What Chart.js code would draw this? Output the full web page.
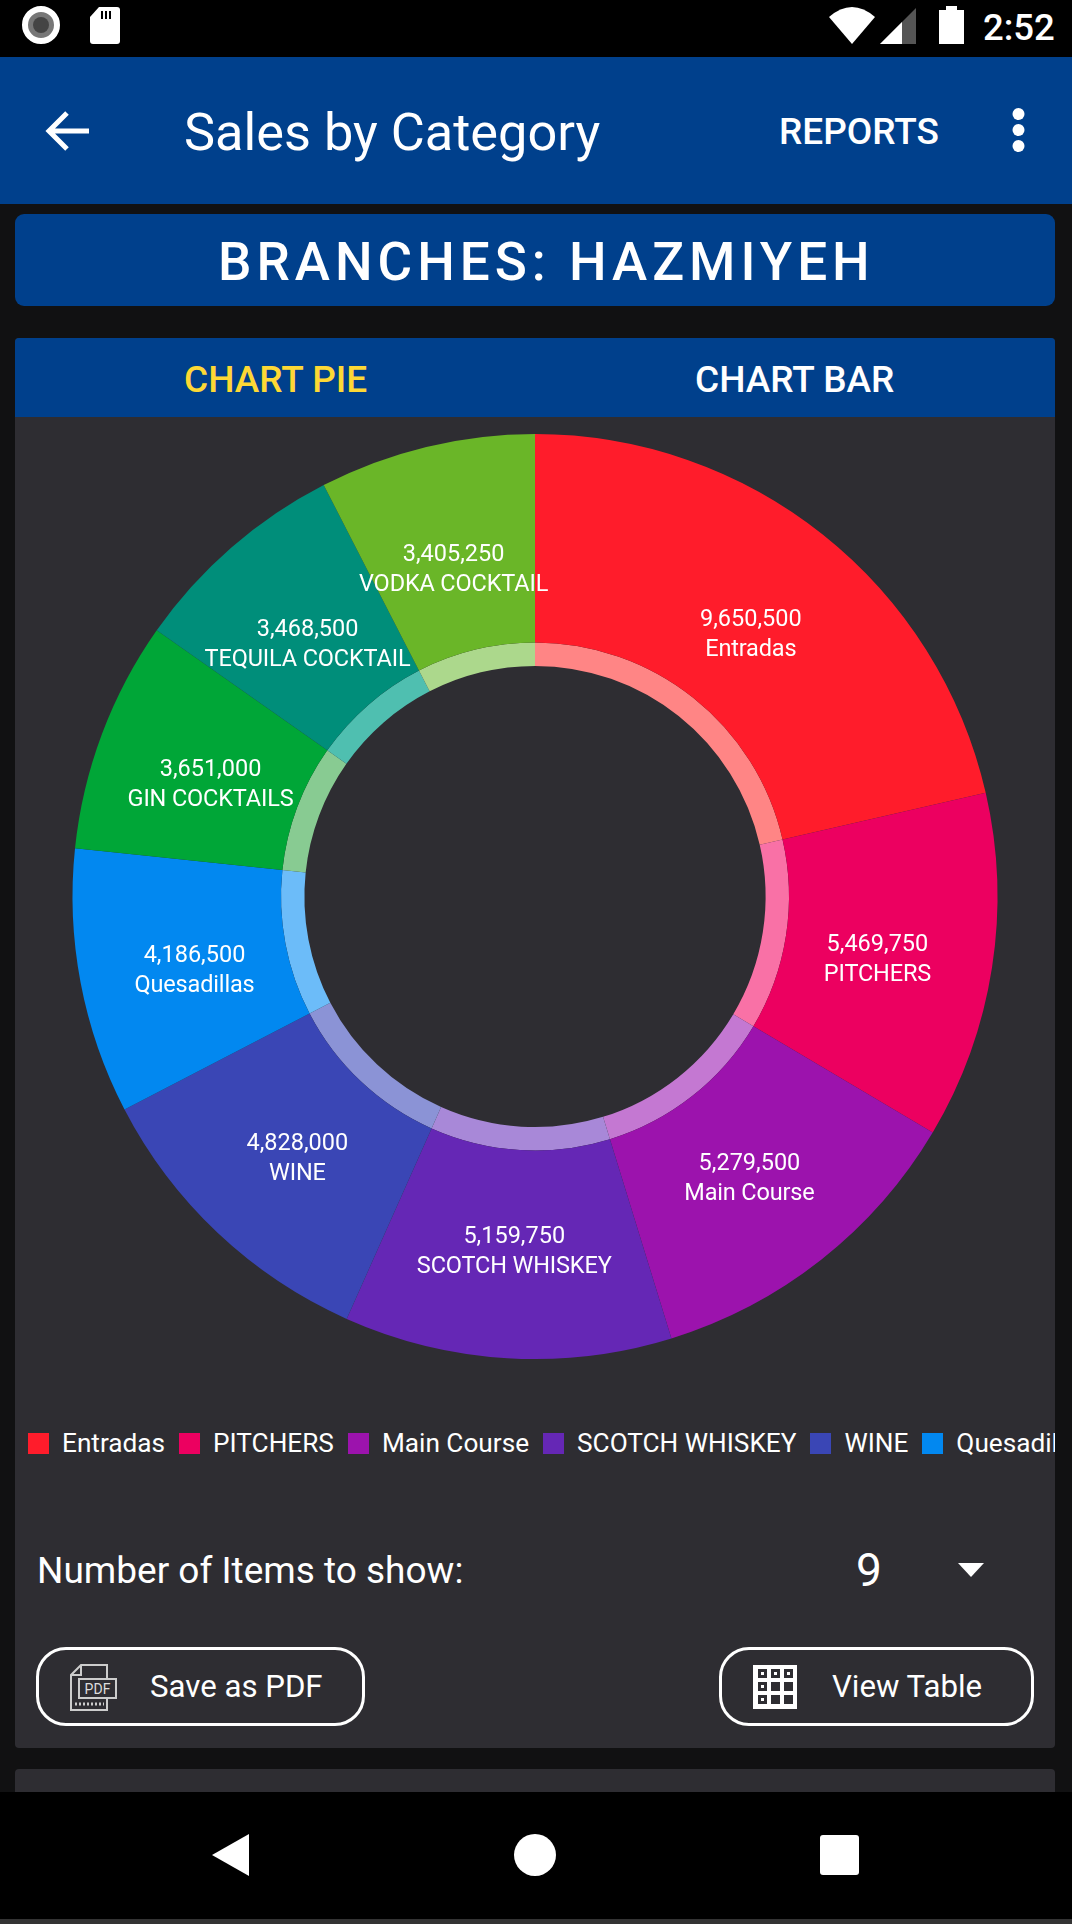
<!DOCTYPE html>
<html>
<head>
<meta charset="utf-8">
<title>Sales by Category</title>
<script src="https://cdn.jsdelivr.net/npm/chart.js@4"></script>
<style>
  html, body { margin: 0; padding: 0; background: #111112; }
  #screen { position: relative; width: 1072px; height: 1924px; overflow: hidden; font-family: Roboto, sans-serif; color: #fff; background: #111112; }
  #screen div, #screen svg { position: absolute; }
  .txt { white-space: nowrap; line-height: 1; }
  .blue { background: #00408c; }
  .card { background: #2e2d32; }
  #legend { left: 15px; top: 1431px; width: 1040px; height: 24px; overflow: hidden; }
  #legendRow { left: 13px; top: 0; display: flex; align-items: center; white-space: nowrap; height: 24px; font-size: 26.2px; }
  .item { display: flex; align-items: center; margin-right: 14px; }
  .box { display: inline-block; width: 21px; height: 21px; margin-right: 13px; }
  .btn { border: 3px solid #fff; border-radius: 30px; box-sizing: border-box; }
</style>
</head>
<body>
<div id="screen">
  <div style="left:0;top:0;width:1072px;height:57px;background:#000"></div>
  <div class="blue" style="left:0;top:57px;width:1072px;height:147px"></div>
  <div class="blue" style="left:15px;top:214px;width:1040px;height:92px;border-radius:9px"></div>
  <div class="card" style="left:15px;top:338px;width:1040px;height:1410px;border-radius:4px"></div>
  <div class="blue" style="left:15px;top:338px;width:1040px;height:79px;border-radius:4px 4px 0 0"></div>
  <div class="card" style="left:15px;top:1769px;width:1040px;height:40px;border-radius:4px"></div>
  <div style="left:0;top:1792px;width:1072px;height:132px;background:#000"></div>
  <div style="left:0;top:1919px;width:1072px;height:5px;background:#333"></div>

  <div class="txt" style="left:184px;top:106px;font-size:52.3px">Sales by Category</div>
  <div class="txt" style="left:779px;top:113px;font-size:37px;font-weight:500">REPORTS</div>
  <div class="txt" style="left:218px;top:236px;font-size:53px;font-weight:500;letter-spacing:5px">BRANCHES: HAZMIYEH</div>
  <div class="txt" style="left:184px;top:361px;font-size:37px;font-weight:500;color:#fdd835">CHART PIE</div>
  <div class="txt" style="left:695px;top:361px;font-size:37px;font-weight:500">CHART BAR</div>
  <div class="txt" style="left:983px;top:10px;font-size:36.5px;font-weight:500">2:52</div>

  <div style="left:14px;top:417px;width:1042px;height:959px">
    <canvas id="chartContainer" width="1042" height="959" style="display:block"></canvas>
  </div>
  <div id="legend"><div id="legendRow"></div></div>

  <div class="txt" style="left:37px;top:1552px;font-size:37px">Number of Items to show:</div>
  <div class="txt" style="left:856px;top:1547px;font-size:46px">9</div>
  <div class="btn" style="left:36px;top:1647px;width:329px;height:79px"></div>
  <div class="btn" style="left:719px;top:1647px;width:315px;height:79px"></div>
  <div class="txt" style="left:150px;top:1671px;font-size:31.2px">Save as PDF</div>
  <div class="txt" style="left:832px;top:1671px;font-size:31.2px">View Table</div>

  <svg width="1072" height="1924" style="left:0;top:0">
    <!-- status bar -->
    <circle cx="41" cy="25" r="16" fill="#777" stroke="#fff" stroke-width="6"/>
    <circle cx="41" cy="25" r="8" fill="#444"/>
    <path d="M99 7h18a3 3 0 0 1 3 3v31a3 3 0 0 1-3 3H93a3 3 0 0 1-3-3V17z" fill="#fff"/>
    <path d="M101 11h2v8h-2zM105 11h2v8h-2zM109 11h2v8h-2z" fill="#000"/>
    <path d="M829 17Q852 -3 875 17L852 44z" fill="#fff"/>
    <path d="M880 44L916 8V44z" fill="#555"/>
    <path d="M880 44L902 22V44z" fill="#fff"/>
    <path d="M946 10v-4h11v4h7v34h-25V10z" fill="#fff"/>
    <!-- app bar icons -->
    <path d="M89 131H50M67 113L49 131L67 149" fill="none" stroke="#fff" stroke-width="5"/>
    <circle cx="1018.5" cy="114" r="6" fill="#fff"/>
    <circle cx="1018.5" cy="130" r="6" fill="#fff"/>
    <circle cx="1018.5" cy="146" r="6" fill="#fff"/>
    <!-- dropdown -->
    <path d="M958 1563H984L971 1577z" fill="#fff"/>
    <!-- pdf icon -->
    <path d="M81 1665H107V1710H71V1675z" fill="none" stroke="#ccc" stroke-width="2"/>
    <path d="M81 1665V1675H71" fill="none" stroke="#ccc" stroke-width="2"/>
    <rect x="79" y="1679" width="37" height="19" fill="#2e2d32" stroke="#ccc" stroke-width="2"/>
    <text x="97.5" y="1694" text-anchor="middle" font-size="14" font-family="Roboto" fill="#ddd">PDF</text>
    <path d="M75 1704H104" stroke="#ccc" stroke-width="3" stroke-dasharray="2 2"/>
    <!-- grid icon -->
    <path fill-rule="evenodd" fill="#fff" d="M753 1665h44v44h-44z
      M758 1669h9v9h-9zM771 1669h9v9h-9zM784 1669h9v9h-9z
      M758 1682h9v9h-9zM771 1682h9v9h-9zM784 1682h9v9h-9z
      M758 1695h9v9h-9zM771 1695h9v9h-9zM784 1695h9v9h-9z"/>
    <path d="M761 1672h3v3h-3zM774 1672h3v3h-3zM787 1672h3v3h-3zM761 1685h3v3h-3zM761 1698h3v3h-3z" fill="#fff"/>
    <!-- nav bar -->
    <path d="M249 1834V1876L212 1855z" fill="#fff"/>
    <circle cx="535" cy="1855" r="21" fill="#fff"/>
    <rect x="820" y="1835" width="39" height="40" rx="3" fill="#fff"/>
  </svg>
</div>

<script>
"use strict";

// 1: data
const categories = ['Entradas', 'PITCHERS', 'Main Course', 'SCOTCH WHISKEY', 'WINE', 'Quesadillas', 'GIN COCKTAILS', 'TEQUILA COCKTAIL', 'VODKA COCKTAIL'];
const salesValues = [9650500, 5469750, 5279500, 5159750, 4828000, 4186500, 3651000, 3468500, 3405250];
const sliceColors = ['#ff1c2b', '#ec0060', '#9c13ad', '#6527b5', '#3a46b5', '#0288f0', '#00a637', '#008e7a', '#6ab628'];
const ringColors = ['#ff8585', '#f971a6', '#c478d2', '#a888d8', '#8b93d6', '#6cbcf9', '#88cb92', '#4fbfb0', '#acd88c'];

// 2: labels inside the slices
const sliceLabels = {
  id: 'sliceLabels',
  afterDatasetsDraw(chart) {
    const ctx = chart.ctx;
    const arcs = chart.getDatasetMeta(0).data;
    const ring = chart.getDatasetMeta(1).data;
    ctx.save();
    ctx.fillStyle = '#fff';
    ctx.font = '23.5px Roboto';
    ctx.fontKerning = 'normal';
    ctx.textAlign = 'center';
    ctx.textBaseline = 'alphabetic';
    arcs.forEach((arc, i) => {
      const mid = (arc.startAngle + arc.endAngle) / 2;
      const r = (arc.outerRadius + ring[i].innerRadius) / 2;
      const x = arc.x + Math.cos(mid) * r;
      const y = arc.y + Math.sin(mid) * r;
      ctx.letterSpacing = '0px';
      ctx.fillText(salesValues[i].toLocaleString('en-US'), x, y + 1);
      ctx.letterSpacing = '-0.15px';
      ctx.fillText(categories[i], x, y + 31);
    });
    ctx.restore();
  }
};

// 3: create the chart
const chart = new Chart(document.getElementById('chartContainer'), {
  type: 'doughnut',
  data: {
    labels: categories,
    datasets: [{
      data: salesValues,
      backgroundColor: sliceColors,
      borderWidth: 0,
      weight: 208.5
    }, {
      data: salesValues,
      backgroundColor: ringColors,
      borderWidth: 0,
      weight: 23.4
    }]
  },
  options: {
    responsive: false,
    animation: false,
    radius: 462.5,
    cutout: '49.86%',
    plugins: {
      legend: { display: false },
      tooltip: { enabled: false }
    }
  },
  plugins: [sliceLabels]
});

// 4: html legend, it runs off the card like the one in the app
const legendRow = document.getElementById('legendRow');
for (const item of chart.options.plugins.legend.labels.generateLabels(chart)) {
  const el = document.createElement('span');
  el.className = 'item';
  const box = document.createElement('span');
  box.className = 'box';
  box.style.background = item.fillStyle;
  el.appendChild(box);
  el.appendChild(document.createTextNode(item.text));
  legendRow.appendChild(el);
}
</script>
</body>
</html>
